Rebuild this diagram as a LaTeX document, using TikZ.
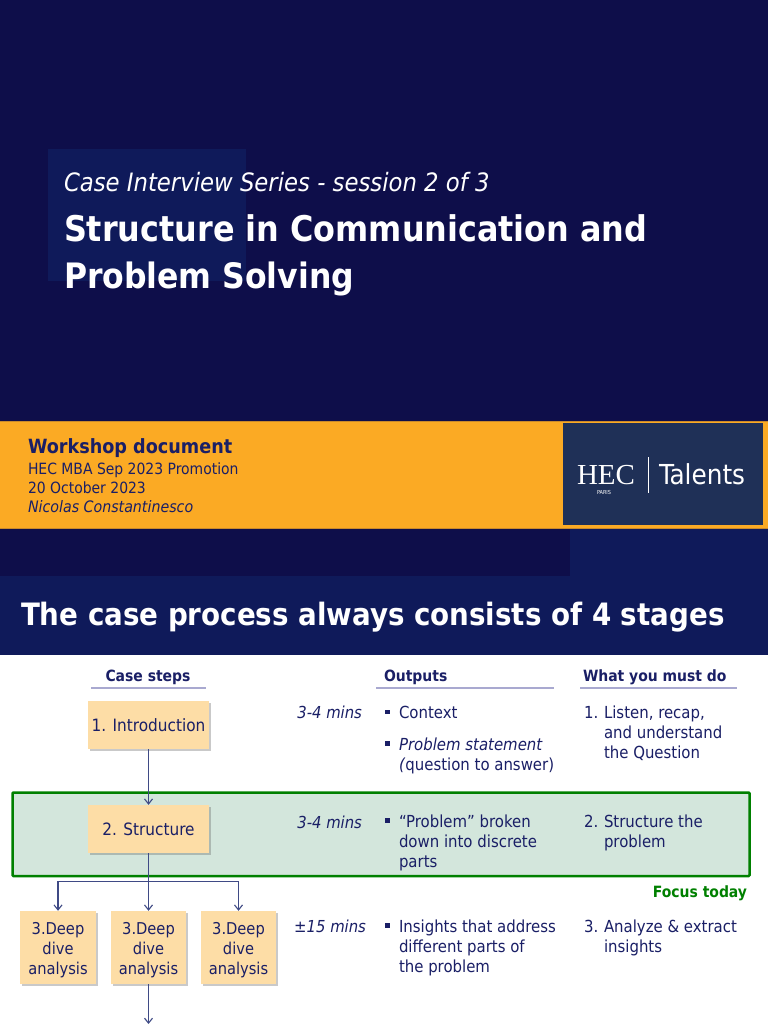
\documentclass[tikz,border=0pt]{standalone}
\usepackage{fontspec}
\setmainfont{DejaVu Sans Condensed}[BoldFont={DejaVu Sans Condensed Bold},ItalicFont={DejaVu Sans Condensed Oblique}]
\newfontfamily\hecfont{Liberation Serif}
\usetikzlibrary{shadows,arrows.meta}
\definecolor{bgtop}{HTML}{0E0E4A}
\definecolor{bgmid}{HTML}{0F1A5A}
\definecolor{orangeband}{HTML}{FBAA24}
\definecolor{bandedge}{HTML}{C98A2C}
\definecolor{logobox}{HTML}{1F3057}
\definecolor{inktext}{HTML}{1A1F66}
\definecolor{boxfill}{HTML}{FDDDA6}
\definecolor{greenfill}{HTML}{D3E6DC}
\definecolor{greenedge}{HTML}{008000}
\definecolor{ruleblue}{HTML}{A9A9D0}
\definecolor{arrowblue}{HTML}{3F4A85}
\newcommand{\fs}[1]{\fontsize{#1}{20}\selectfont}
\tikzset{
  x=1pt,y=-1pt,
  txt/.style={inner sep=0pt,outer sep=0pt,text=inktext,font=\fs{16.6},anchor=base west,align=left},
  ctxt/.style={inner sep=0pt,outer sep=0pt,text=inktext,font=\fs{16.3},anchor=base,align=center},
  stagebox/.style={fill=boxfill,inner sep=0pt,drop shadow={shadow xshift=1.5pt,shadow yshift=-1.5pt,opacity=.35,fill=black!60}},
  headrule/.style={ruleblue,line width=1.4pt},
  conn/.style={arrowblue,line width=1.1pt,-{Straight Barb[length=5pt,width=8pt]}},
  bulletsq/.style={fill=inktext,inner sep=0pt,minimum size=4.4pt},
}
\begin{document}
\begin{tikzpicture}
\useasboundingbox (0,0) rectangle (768,1024);
% backgrounds
\fill[bgtop] (0,0) rectangle (768,576);
\fill[bgmid] (570,528) rectangle (768,576);
\fill[bgmid] (48,149) rectangle (246,281);
\fill[bgmid] (0,576) rectangle (768,655);
\fill[white] (0,655) rectangle (768,1024);
\fill[orangeband] (0,421) rectangle (768,528);
\draw[bandedge,line width=.8pt] (0,421)--(768,421) (0,528)--(768,528);
\fill[logobox] (563,423) rectangle (763,525);
% title
\node[txt,text=white,font=\fs{25.3}\itshape] (sub) at (64,192) {Case Interview Series - session 2 of 3};
\node[txt,text=white,font=\fs{35.4}\bfseries] (t1) at (64,241) {Structure in Communication and};
\node[txt,text=white,font=\fs{35}\bfseries] (t2) at (64,288) {Problem Solving};
% band
\node[txt,font=\fs{19.6}\bfseries] (w1) at (28,453) {Workshop document};
\node[txt,font=\fs{15.5}] (w2) at (28,474) {HEC MBA Sep 2023 Promotion};
\node[txt,font=\fs{15.5}] (w3) at (28,493) {20 October 2023};
\node[txt,font=\fs{15.8}\itshape] (w4) at (28,512) {Nicolas Constantinesco};
% logo
\node[txt,text=white,font=\hecfont\fs{29}] (hec) at (577,484) {HEC};
\node[txt,text=white,font=\fs{5.5}] (paris) at (597,494) {PARIS};
\node[txt,text=white,font=\fs{27.5}] (tal) at (659,484) {Talents};
\draw[white,line width=1pt] (648,457)--(648,493);
% banner
\node[txt,text=white,font=\fs{30.8}\bfseries] (banner) at (21,625) {The case process always consists of 4 stages};
% green focus
\draw[greenedge,fill=greenfill,line width=2.5pt,rounded corners=1pt] (12.5,792.5) rectangle (749.5,876);
\node[txt,anchor=base east,text=greenedge,font=\fs{15.5}\bfseries] (focus) at (747,897) {Focus today};
% headers
\node[ctxt,font=\fs{15.5}\bfseries] (hcase) at (148,681) {Case steps};
\node[txt,font=\fs{15.5}\bfseries] (hout) at (384,681) {Outputs};
\node[txt,font=\fs{15.5}\bfseries] (hwhat) at (583,681) {What you must do};
\draw[headrule] (91,688)--(206,688);
\draw[headrule] (376,688)--(554,688);
\draw[headrule] (580,688)--(737,688);
% boxes
\node[stagebox,minimum width=121pt,minimum height=48pt] (intro) at (148.5,725) {};
\node[ctxt,font=\fs{17}] (introt) at (148.5,731) {1. Introduction};
\node[stagebox,minimum width=121pt,minimum height=48pt] (struct) at (148.5,829) {};
\node[ctxt,font=\fs{17}] (structt) at (148.5,835) {2. Structure};
\node[stagebox,minimum width=76pt,minimum height=73pt] (d1) at (58,947.5) {};
\node[stagebox,minimum width=75pt,minimum height=73pt] (d2) at (148.5,947.5) {};
\node[stagebox,minimum width=75pt,minimum height=73pt] (d3) at (238.5,947.5) {};
\node[ctxt] (d1t) at (58,974) {3.Deep\\dive\\analysis};
\node[ctxt] (d2t) at (148.5,974) {3.Deep\\dive\\analysis};
\node[ctxt] (d3t) at (238.5,974) {3.Deep\\dive\\analysis};
% connectors
\coordinate (junc) at (148.5,881.5);
\coordinate (endc) at (148.5,1024);
\draw[conn] (intro.south) -- (struct.north);
\draw[conn] (struct.south) -- (d2.north);
\draw[conn] (junc) -| (d1.north);
\draw[conn] (junc) -| (d3.north);
\draw[conn] (d2.south) -- (endc);
% times
\node[txt,anchor=base east,font=\fs{16.5}\itshape] (m1) at (362,718) {3-4 mins};
\node[txt,anchor=base east,font=\fs{16.5}\itshape] (m2) at (362,828) {3-4 mins};
\node[txt,anchor=base east,font=\fs{16.5}\itshape] (m3) at (366,932) {±15 mins};
% outputs
\node[bulletsq] (b1) at (387.6,712) {};
\node[bulletsq] (b2) at (387.6,743.5) {};
\node[bulletsq] (b3) at (387.6,820.5) {};
\node[bulletsq] (b4) at (387.6,925.5) {};
\node[txt] (o1) at (399,718) {Context};
\node[txt] (o2) at (399,770) {\textit{Problem statement}\\\textit{(}question to answer)};
\node[txt] (o3) at (399,867) {“Problem” broken\\down into discrete\\parts};
\node[txt] (o4) at (399,972) {Insights that address\\different parts of\\the problem};
% what
\node[txt] (n1) at (584,718) {1.};
\node[txt] (n2) at (584,827) {2.};
\node[txt] (n3) at (584,932) {3.};
\node[txt] (a1) at (604,758) {Listen, recap,\\and understand\\the Question};
\node[txt] (a2) at (604,847) {Structure the\\problem};
\node[txt] (a3) at (604,952) {Analyze \& extract\\insights};
\end{tikzpicture}
\end{document}
